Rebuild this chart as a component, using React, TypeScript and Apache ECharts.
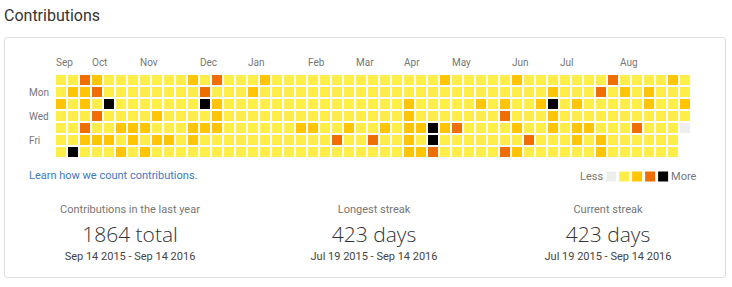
import React, { useEffect, useRef } from "react";
import * as echarts from "echarts";

const weekdays = ["Sun", "Mon", "Tue", "Wed", "Thu", "Fri", "Sat"];
const dayLabels = ["", "Mon", "", "Wed", "", "Fri", ""];
const monthNames = ["Sep", "Oct", "Nov", "Dec", "Jan", "Feb", "Mar", "Apr", "May", "Jun", "Jul", "Aug"];
const monthStartWeeks = [0, 3, 7, 12, 16, 21, 25, 29, 33, 38, 42, 47];
const levelColors = ["#eeeeee", "#ffee4a", "#ffc501", "#ee6e00", "#000000"];

// contribution level (0-4) per week column, one array per weekday row
const sunLevels = [1,1,3,2,1,1,1,1,1,1, 1,2,1,3,1,1,1,2,1,1, 1,1,1,1,1,1,1,1,1,1, 1,1,2,1,1,1,1,1,2,1, 1,1,1,1,1,1,3,1,1,1, 1,2,1];
const monLevels = [1,2,2,3,1,1,1,1,1,1, 1,1,3,1,1,1,2,1,1,1, 1,1,1,1,1,1,1,1,1,1, 1,1,1,1,1,1,1,1,1,1, 1,2,1,1,1,3,1,2,1,2, 1,1,1];
const tueLevels = [2,1,2,1,4,1,1,1,1,1, 1,1,4,2,1,1,1,1,1,1, 1,1,1,1,1,1,1,1,1,2, 1,1,1,1,1,2,1,2,1,1, 2,4,1,2,1,1,1,1,1,2, 1,1,2];
const wedLevels = [1,1,1,3,1,1,1,1,2,1, 1,1,1,2,1,1,1,1,1,1, 1,1,1,1,1,1,1,1,1,2, 1,1,1,1,1,1,1,3,1,1, 1,2,1,1,1,1,1,1,1,1, 1,1,1];
const thuLevels = [1,1,3,1,1,2,2,2,1,1, 1,2,2,2,1,1,1,1,1,1, 2,2,1,1,2,1,1,2,1,2, 2,4,2,3,1,1,1,1,2,1, 1,2,1,2,2,1,1,1,3,1, 1,1,0];
const friLevels = [1,1,2,2,2,1,2,1,2,2, 1,2,1,1,1,1,1,1,1,1, 1,1,1,3,1,1,3,1,1,2, 1,4,1,1,1,1,1,1,1,3, 1,1,1,2,1,2,1,1,1,1, 1,1];
const satLevels = [1,4,1,1,1,2,1,2,1,1, 1,1,1,1,1,1,1,1,1,1, 1,1,1,1,1,1,1,1,1,2, 2,3,1,1,1,1,1,3,2,1, 1,1,1,1,1,2,1,1,1,1, 1,1];

const statTitles = ["Contributions in the last year", "Longest streak", "Current streak"];
const statValues = ["1864 total", "423 days", "423 days"];
const statRanges = ["Sep 14 2015 - Sep 14 2016", "Jul 19 2015 - Sep 14 2016", "Jul 19 2015 - Sep 14 2016"];

const FONT = "Roboto";
const BIG_FONT = "Open Sans";

export default function App() {
  const ref = useRef<HTMLDivElement>(null);

  useEffect(() => {
    if (!ref.current) return;
    const chart = echarts.init(ref.current, undefined, { renderer: "svg" });
    const rows = [sunLevels, monLevels, tueLevels, wedLevels, thuLevels, friLevels, satLevels];
    const weeks = Math.max(...rows.map((r) => r.length));
    const weekCats = Array.from({ length: weeks }, (_, i) => String(i));
    const data: number[][] = [];
    rows.forEach((row, r) => row.forEach((lv, c) => data.push([c, r, lv])));

    chart.setOption({
      animation: false,
      backgroundColor: "#ffffff",
      grid: { left: 55, top: 74, width: weeks * 12, height: 84 },
      xAxis: {
        type: "category",
        data: weekCats,
        axisLine: { show: false },
        axisTick: { show: false },
        axisLabel: { show: false },
        splitLine: { show: false },
      },
      yAxis: {
        type: "category",
        data: weekdays,
        inverse: true,
        axisLine: { show: false },
        axisTick: { show: false },
        splitLine: { show: false },
        axisLabel: {
          interval: 0,
          formatter: (_v: string, i: number) => dayLabels[i],
          align: "left",
          margin: 26,
          fontSize: 10,
          fontFamily: FONT,
          color: "#767676",
        },
      },
      visualMap: {
        type: "piecewise",
        dimension: 2,
        seriesIndex: 0,
        orient: "horizontal",
        left: 565,
        top: 156,
        itemWidth: 10,
        itemHeight: 10,
        itemGap: 3,
        itemSymbol: "rect",
        textGap: 8,
        text: ["More", "Less"],
        selectedMode: false,
        textStyle: { fontSize: 11, fontFamily: FONT, color: "#767676" },
        pieces: levelColors.map((color, i) => ({ value: i, color })),
      },
      series: [
        {
          type: "scatter",
          symbol: "rect",
          symbolSize: 10,
          itemStyle: { opacity: 1 },
          data,
          emphasis: { disabled: true },
        },
      ],
    });

    const x0 = chart.convertToPixel({ xAxisIndex: 0 }, "0") as number;
    const x1 = chart.convertToPixel({ xAxisIndex: 0 }, "1") as number;
    const half = (x1 - x0) / 2;

    const txt = (
      text: string,
      x: number,
      y: number,
      size: number,
      fill: string,
      align = "left",
      weight: any = "normal",
      family = FONT
    ) => ({
      type: "text",
      x,
      y,
      silent: true,
      style: {
        text,
        fill,
        fontSize: size,
        fontFamily: family,
        fontWeight: weight,
        textAlign: align,
        align,
        textVerticalAlign: "middle",
        verticalAlign: "middle",
      },
    });

    const centers = [130, 374, 608];
    const elements: any[] = [
      {
        type: "rect",
        shape: { x: 4.5, y: 37.5, width: 721, height: 240, r: 3 },
        style: { fill: "none", stroke: "#dddddd", lineWidth: 1 },
        silent: true,
      },
      txt("Contributions", 4, 15, 16, "#333333"),
      txt("Learn how we count contributions.", 29, 175, 11, "#4078c0"),
    ];
    monthNames.forEach((m, i) => {
      const cx = chart.convertToPixel({ xAxisIndex: 0 }, String(monthStartWeeks[i])) as number;
      elements.push(txt(m, cx - half + 1, 62, 10, "#767676"));
    });
    centers.forEach((cx, i) => {
      elements.push(txt(statTitles[i], cx, 209, 11, "#767676", "center"));
      elements.push(txt(statValues[i], cx, 234, 21, "#333333", "center", 300, BIG_FONT));
      elements.push(txt(statRanges[i], cx, 256, 11, "#444444", "center"));
    });
    chart.setOption({ graphic: { elements } });

    return () => chart.dispose();
  }, []);

  return (
    <div
      ref={ref}
      style={{ position: "fixed", left: 0, top: 0, width: 732, height: 287, background: "#fff" }}
    />
  );
}
